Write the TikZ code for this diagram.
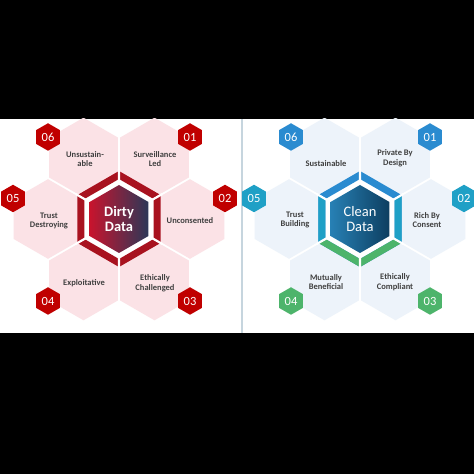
\documentclass[tikz,border=0pt]{standalone}
\usepackage{fontspec}
\setmainfont{Carlito}
\usetikzlibrary{shapes.geometric}

\definecolor{dirtypink}{HTML}{FBE2E6}
\definecolor{dirtyring}{HTML}{A8121F}
\definecolor{dirtybadge}{HTML}{C00000}
\definecolor{dirtyred}{HTML}{C8142D}
\definecolor{dirtynavy}{HTML}{2B3858}
\definecolor{cleanpale}{HTML}{EDF3FA}
\definecolor{cleanblue}{HTML}{2A8BD0}
\definecolor{cleanteal}{HTML}{1FA0C6}
\definecolor{cleangreen}{HTML}{4DB46B}
\definecolor{cleanlight}{HTML}{2780B4}
\definecolor{cleandark}{HTML}{0D3E60}
\definecolor{labelgray}{HTML}{404040}
\definecolor{divider}{HTML}{C6D5DE}

\tikzset{
  hexa/.style={regular polygon, regular polygon sides=6, regular polygon rotate=30, inner sep=0pt, outer sep=0pt},
  cell/.style={hexa, minimum size=79.6pt},
  badge/.style={hexa, minimum size=27.5pt, text=white, font=\fontsize{12.5}{13}\selectfont},
  ring/.style={hexa, minimum size=88pt, line width=6.93pt},
  core/.style={hexa, minimum size=68pt, text=white, align=center},
  ringgap/.style={white, line width=2.2pt},
  celltext/.style={align=center, text=labelgray, inner sep=0pt, font=\bfseries\fontsize{8.5}{9.8}\selectfont},
}

\begin{document}
\begin{tikzpicture}[x=1pt, y=1pt]

    % fondo
    \fill[black] (0,0) rectangle (474,474);
    \fill[white] (0,141) rectangle (474,355);
    \useasboundingbox (0,0) rectangle (474,474);
    \draw[divider, line width=1.2pt] (242,141) -- (242,355);

    % Dirty Data
    \begin{scope}
        \clip (0,141) rectangle (242,355);
        \node[cell, fill=dirtypink] (d01) at (154.5,316.5) {};
        \node[cell, fill=dirtypink] (d02) at (190,255) {};
        \node[cell, fill=dirtypink] (d03) at (154.5,193.5) {};
        \node[cell, fill=dirtypink] (d04) at (83.5,193.5) {};
        \node[cell, fill=dirtypink] (d05) at (48,255) {};
        \node[cell, fill=dirtypink] (d06) at (83.5,316.5) {};
    \end{scope}

    \node[ring, draw=dirtyring, fill=white] (ringL) at (119,255) {};
    \draw[ringgap] ([shift={(30:37)}]ringL.center) -- ([shift={(30:50)}]ringL.center)
                   ([shift={(90:37)}]ringL.center) -- ([shift={(90:50)}]ringL.center)
                   ([shift={(150:37)}]ringL.center) -- ([shift={(150:50)}]ringL.center)
                   ([shift={(210:37)}]ringL.center) -- ([shift={(210:50)}]ringL.center)
                   ([shift={(270:37)}]ringL.center) -- ([shift={(270:50)}]ringL.center)
                   ([shift={(330:37)}]ringL.center) -- ([shift={(330:50)}]ringL.center);
    \node[core, left color=dirtyred, right color=dirtynavy,
          font=\bfseries\fontsize{14.5}{15.5}\selectfont] (dirty) at (119,255) {Dirty\\Data};

    \node[celltext] (t01) at (155,315) {Surveillance\\Led};
    \node[celltext] (t02) at (190,253) {Unconsented};
    \node[celltext] (t03) at (155,191) {Ethically\\Challenged};
    \node[celltext] (t04) at (84,191) {Exploitative};
    \node[celltext] (t05) at (49,253) {Trust\\Destroying};
    \node[celltext] (t06) at (85,315) {Unsustain-\\able};

    \node[badge, fill=dirtybadge] (b01) at (190,337) {01};
    \node[badge, fill=dirtybadge] (b02) at (225,275.5) {02};
    \node[badge, fill=dirtybadge] (b03) at (190,173) {03};
    \node[badge, fill=dirtybadge] (b04) at (48,173) {04};
    \node[badge, fill=dirtybadge] (b05) at (13,275.5) {05};
    \node[badge, fill=dirtybadge] (b06) at (48,337) {06};

    % Clean Data
    \begin{scope}
        \clip (243,141) rectangle (474,355);
        \node[cell, fill=cleanpale] (c01) at (395.5,316.5) {};
        \node[cell, fill=cleanpale] (c02) at (431,255) {};
        \node[cell, fill=cleanpale] (c03) at (395.5,193.5) {};
        \node[cell, fill=cleanpale] (c04) at (324.5,193.5) {};
        \node[cell, fill=cleanpale] (c05) at (289,255) {};
        \node[cell, fill=cleanpale] (c06) at (324.5,316.5) {};
    \end{scope}

    \node[ring, draw=cleanblue, fill=white] (ringR) at (360,255) {};
    \fill[cleanteal] ([shift={(330:48)}]ringR.center) -- ([shift={(30:48)}]ringR.center)
        -- ([shift={(30:40)}]ringR.center) -- ([shift={(330:40)}]ringR.center) -- cycle;
    \fill[cleanteal] ([shift={(150:48)}]ringR.center) -- ([shift={(210:48)}]ringR.center)
        -- ([shift={(210:40)}]ringR.center) -- ([shift={(150:40)}]ringR.center) -- cycle;
    \fill[cleangreen] ([shift={(210:48)}]ringR.center) -- ([shift={(270:48)}]ringR.center)
        -- ([shift={(330:48)}]ringR.center) -- ([shift={(330:40)}]ringR.center)
        -- ([shift={(270:40)}]ringR.center) -- ([shift={(210:40)}]ringR.center) -- cycle;
    \draw[ringgap] ([shift={(30:37)}]ringR.center) -- ([shift={(30:50)}]ringR.center)
                   ([shift={(90:37)}]ringR.center) -- ([shift={(90:50)}]ringR.center)
                   ([shift={(150:37)}]ringR.center) -- ([shift={(150:50)}]ringR.center)
                   ([shift={(210:37)}]ringR.center) -- ([shift={(210:50)}]ringR.center)
                   ([shift={(270:37)}]ringR.center) -- ([shift={(270:50)}]ringR.center)
                   ([shift={(330:37)}]ringR.center) -- ([shift={(330:50)}]ringR.center);
    \node[core, left color=cleanlight, right color=cleandark,
          font=\fontsize{14.5}{15.5}\selectfont] (clean) at (360,255) {Clean\\Data};

    \node[celltext] (u01) at (395,316) {Private By\\Design};
    \node[celltext] (u02) at (427,254) {Rich By\\Consent};
    \node[celltext] (u03) at (395,192) {Ethically\\Compliant};
    \node[celltext] (u04) at (326,192) {Mutually\\Beneficial};
    \node[celltext] (u05) at (295,254) {Trust\\Building};
    \node[celltext] (u06) at (326,310) {Sustainable};

    \node[badge, fill=cleanblue] (e01) at (430,337) {01};
    \node[badge, fill=cleanteal] (e02) at (464,275.5) {02};
    \node[badge, fill=cleangreen] (e03) at (430,173) {03};
    \node[badge, fill=cleangreen] (e04) at (291,173) {04};
    \node[badge, fill=cleanteal] (e05) at (254,275.5) {05};
    \node[badge, fill=cleanblue] (e06) at (291,337) {06};

\end{tikzpicture}
\end{document}
